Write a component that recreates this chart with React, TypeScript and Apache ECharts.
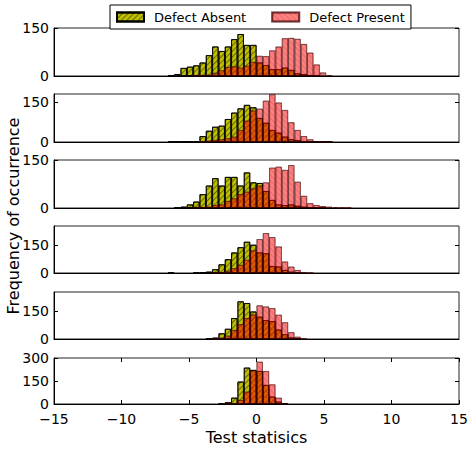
import React, { useEffect, useRef } from "react";
import * as echarts from "echarts";

// Histogram bins: 64 bins over [-15, 15]; arrays below cover bins k = -15 .. 14 (edge = k * BIN_W)
const BIN_W = 30 / 64;
const K_START = -15;

const absent1 = [0, 2, 6, 25, 29, 33, 42, 65, 92, 78, 92, 115, 131, 97, 97, 42, 34, 21, 21, 26, 19, 8, 6, 3, 1, 0, 0, 0, 0, 0];
const present1 = [0, 0, 0, 0, 0, 1, 3, 4, 10, 18, 28, 30, 26, 32, 44, 63, 62, 80, 92, 118, 119, 116, 100, 73, 36, 11, 2, 0, 0, 0];

const absent2 = [0, 1, 1, 2, 2, 3, 22, 42, 57, 61, 86, 110, 126, 139, 130, 90, 72, 45, 35, 20, 10, 7, 3, 1, 1, 1, 1, 0, 0, 0];
const present2 = [0, 0, 0, 0, 0, 0, 1, 5, 8, 10, 14, 20, 45, 80, 118, 125, 155, 179, 148, 120, 74, 45, 22, 10, 3, 1, 1, 0, 0, 0];

const absent3 = [0, 0, 1, 4, 11, 20, 43, 70, 93, 70, 97, 97, 70, 111, 80, 78, 53, 25, 11, 9, 11, 7, 4, 2, 1, 1, 0, 0, 0, 0];
const present3 = [0, 0, 0, 0, 0, 1, 2, 4, 9, 11, 22, 30, 43, 51, 61, 70, 80, 126, 129, 119, 134, 82, 38, 15, 9, 6, 4, 2, 1, 1];

const absent4 = [0, 1, 0, 0, 0, 1, 3, 7, 20, 46, 73, 109, 137, 166, 150, 109, 105, 37, 34, 16, 7, 2, 0, 0, 0, 0, 0, 0, 0, 0];
const present4 = [0, 0, 0, 0, 0, 0, 0, 0, 1, 3, 12, 25, 43, 70, 120, 180, 212, 191, 141, 61, 34, 16, 5, 1, 0, 0, 0, 0, 0, 0];

const absent5 = [0, 0, 0, 0, 0, 0, 0, 1, 7, 30, 54, 111, 200, 191, 146, 118, 100, 95, 50, 25, 8, 3, 0, 0, 0, 0, 0, 0, 0, 0];
const present5 = [0, 0, 0, 0, 0, 0, 0, 0, 1, 7, 18, 48, 79, 111, 130, 179, 173, 164, 129, 89, 36, 12, 2, 0, 0, 0, 0, 0, 0, 0];

const absent6 = [0, 0, 0, 0, 0, 0, 0, 0, 0, 1, 11, 41, 146, 237, 222, 215, 124, 48, 15, 2, 0, 0, 0, 0, 0, 0, 0, 0, 0, 0];
const present6 = [0, 0, 0, 0, 0, 0, 0, 0, 0, 0, 3, 4, 26, 80, 218, 276, 215, 128, 41, 4, 0, 0, 0, 0, 0, 0, 0, 0, 0, 0];

const absentSets = [absent1, absent2, absent3, absent4, absent5, absent6];
const presentSets = [present1, present2, present3, present4, present5, present6];
const yMaxes = [150, 180, 150, 250, 250, 300];
const yTickLabels = [[0, 150], [0, 150], [0, 150], [0, 150], [0, 150], [0, 150, 300]];
const seriesNames = ["Defect Absent", "Defect Present"];

const FONT = "DejaVu Sans";
const GRID_LEFT = 54;
const GRID_W = 405;
const tops = [28, 94, 160, 226, 292, 358];
const heights = [48, 48, 48, 47, 47, 46];

export default function App() {
  const ref = useRef<HTMLDivElement>(null);
  useEffect(() => {
    if (!ref.current) return;
    const chart = echarts.init(ref.current, null, { renderer: "svg" });
    const barW = (BIN_W * GRID_W) / 30;
    const fmt = (v: number) => (v < 0 ? "\u2212" + Math.abs(v) : String(v));

    const grids: any[] = [];
    const xAxes: any[] = [];
    const yAxes: any[] = [];
    const series: any[] = [];
    const n = absentSets.length;
    for (let i = 0; i < n; i++) {
      const last = i === n - 1;
      grids.push({
        left: GRID_LEFT, width: GRID_W, top: tops[i], height: heights[i],
        show: true, borderColor: "#222", borderWidth: 1, backgroundColor: "transparent",
      });
      xAxes.push({
        type: "value", gridIndex: i, min: -15, max: 15, interval: 5, position: "bottom",
        axisLine: { show: true, onZero: false, lineStyle: { color: "#000", width: 1.2 } },
        axisTick: { show: last, inside: true, length: 4, lineStyle: { color: "#000" } },
        axisLabel: { show: last, fontSize: 14, fontFamily: FONT, color: "#000", margin: 8, lineHeight: 14, formatter: fmt },
        splitLine: { show: false },
      });
      if (last) {
        xAxes.push({
          type: "value", gridIndex: i, min: -15, max: 15, interval: 5, position: "top",
          axisLine: { show: false, onZero: false },
          axisTick: { show: true, inside: true, length: 4, lineStyle: { color: "#000" } },
          axisLabel: { show: false }, splitLine: { show: false },
        });
      }
      yAxes.push({
        type: "value", gridIndex: i, min: 0, max: yMaxes[i], position: "left",
        axisLine: { show: true, onZero: false, lineStyle: { color: "#000" } },
        axisTick: { show: true, inside: true, length: 4, customValues: yTickLabels[i], lineStyle: { color: "#000" } },
        axisLabel: { show: true, fontSize: 14, fontFamily: FONT, color: "#000", margin: 5, lineHeight: 11, customValues: yTickLabels[i] },
        splitLine: { show: false },
      });
      yAxes.push({
        type: "value", gridIndex: i, min: 0, max: yMaxes[i], position: "right",
        axisLine: { show: false, onZero: false },
        axisTick: { show: true, inside: true, length: 4, customValues: yTickLabels[i], lineStyle: { color: "#000" } },
        axisLabel: { show: false }, splitLine: { show: false },
      });
    }
    let xi = 0;
    for (let i = 0; i < n; i++) {
      const xIndex = xi;
      xi += i === n - 1 ? 2 : 1;
      const mk = (arr: number[]) =>
        arr.map((c, j) => [(K_START + j + 0.5) * BIN_W, c]).filter((d) => d[1] > 0);
      series.push({
        type: "bar", name: seriesNames[0], xAxisIndex: xIndex, yAxisIndex: 2 * i,
        data: mk(absentSets[i]), barWidth: barW, barGap: "-100%",
        itemStyle: {
          color: "#bfbf00", borderColor: "#000", borderWidth: 0.8,
          decal: { symbol: "rect", symbolSize: 1, dashArrayX: [1, 0], dashArrayY: [1, 3], rotation: -Math.PI / 4, color: "rgba(0,0,0,0.45)" },
        },
      });
      series.push({
        type: "bar", name: seriesNames[1], xAxisIndex: xIndex, yAxisIndex: 2 * i,
        data: mk(presentSets[i]), barWidth: barW, barGap: "-100%",
        itemStyle: {
          color: "rgba(255,0,0,0.5)", borderColor: "rgba(60,0,0,0.5)", borderWidth: 0.8,
          decal: { symbol: "rect", symbolSize: 1, dashArrayX: [1, 0], dashArrayY: [1, 3], rotation: Math.PI / 4, color: "rgba(90,0,0,0.15)" },
        },
      });
    }

    chart.setOption({
      animation: false,
      backgroundColor: "#fff",
      grid: grids,
      xAxis: xAxes,
      yAxis: yAxes,
      series,
      legend: {
        data: seriesNames, left: 110, top: 5, orient: "horizontal",
        icon: "rect", itemWidth: 27, itemHeight: 9, itemGap: 25,
        padding: [5, 6, 5, 6], borderColor: "#000", borderWidth: 1, backgroundColor: "#fff",
        textStyle: { fontSize: 13, fontFamily: FONT, color: "#000", lineHeight: 14, padding: [0, 0, 0, 5] },
      },
      graphic: [
        { type: "text", x: GRID_LEFT + GRID_W / 2, y: 437, style: { text: "Test statisics", fontSize: 16, fontFamily: FONT, fill: "#000", textAlign: "center", textVerticalAlign: "middle" } },
        { type: "text", x: 13.5, y: 216, rotation: Math.PI / 2, style: { text: "Frequency of occurrence", fontSize: 16, fontFamily: FONT, fill: "#000", textAlign: "center", textVerticalAlign: "middle" } },
      ],
    });
    return () => chart.dispose();
  }, []);
  return <div ref={ref} style={{ position: "fixed", left: 0, top: 0, width: 474, height: 451 }} />;
}
